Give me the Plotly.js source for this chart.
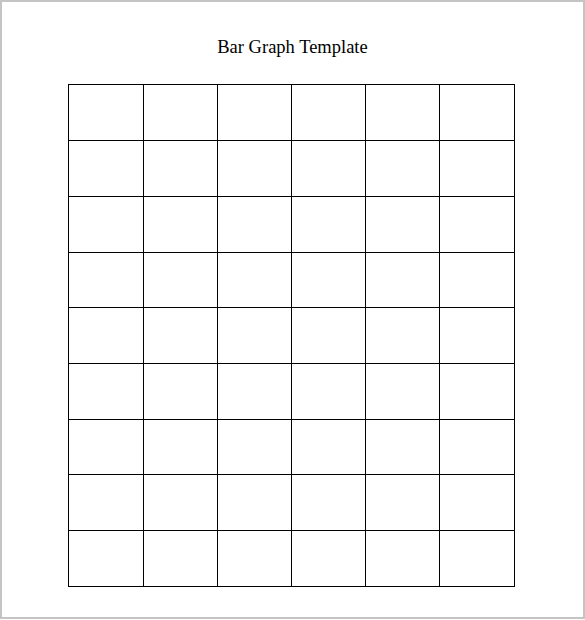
<!DOCTYPE html>
<html>
<head>
<meta charset="utf-8">
<script src="https://cdn.plot.ly/plotly-3.0.1.min.js"></script>
<style>
  body { margin: 0; background: #fff; }
  #wrap { position: relative; width: 585px; height: 620px; }
  #chart { position: absolute; left: 0; top: 0; width: 585px; height: 620px; }
  #frame { position: absolute; left: 0; top: 0; width: 585px; height: 619px;
           box-sizing: border-box; border: 2px solid #c4c4c4; pointer-events: none; }
</style>
</head>
<body>
<div id="wrap">
  <div id="chart"></div>
  <div id="frame"></div>
</div>
<script>
// blank template: 6 columns, 9 rows, no values filled in yet
var columns = [0.5, 1.5, 2.5, 3.5, 4.5, 5.5];
var values = [null, null, null, null, null, null];
var rowCount = 9;
var colCount = 6;

var data = [
  {
    x: columns,
    y: values,
    type: 'bar',
    width: 1,
    marker: { color: 'rgba(0,0,0,0)' },
    hoverinfo: 'skip'
  }
];

var axisStyle = {
  tick0: 0,
  dtick: 1,
  showgrid: true,
  gridcolor: '#000',
  gridwidth: 1,
  zeroline: false,
  showline: true,
  linecolor: '#000',
  linewidth: 1,
  mirror: true,
  ticks: '',
  showticklabels: false,
  fixedrange: true
};

var layout = {
  width: 585,
  height: 620,
  margin: { l: 69, r: 71, t: 85, b: 34 },
  paper_bgcolor: '#fff',
  plot_bgcolor: '#fff',
  showlegend: false,
  title: {
    text: 'Bar Graph Template',
    font: { family: 'Liberation Serif, Times New Roman, serif', size: 18.5, color: '#000' },
    x: 0.5,
    xanchor: 'center',
    xref: 'container',
    y: 1 - 47 / 620,
    yanchor: 'middle',
    yref: 'container'
  },
  xaxis: Object.assign({ range: [0, colCount] }, axisStyle),
  yaxis: Object.assign({ range: [0, rowCount] }, axisStyle)
};

Plotly.newPlot('chart', data, layout, { staticPlot: true, displayModeBar: false });
</script>
</body>
</html>
